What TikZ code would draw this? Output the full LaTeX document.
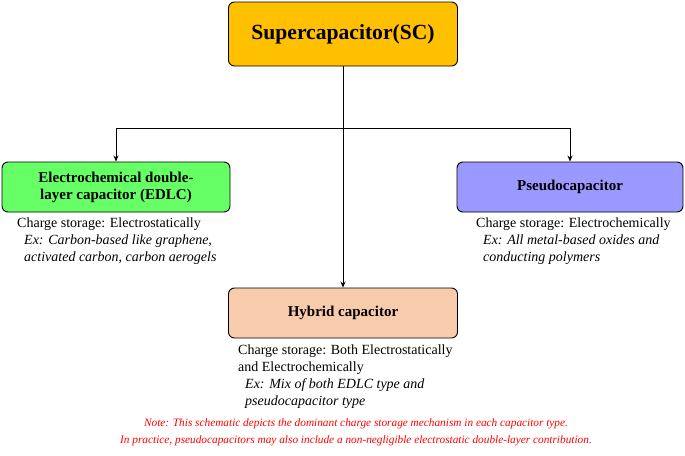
\documentclass[tikz,border=0pt]{standalone}
\usepackage{fontspec}
\setmainfont{Liberation Serif}
\usetikzlibrary{arrows.meta}
\begin{document}
\begin{tikzpicture}[x=1pt,y=-1pt,
  box/.style={draw=black,line width=0.9pt,rounded corners=6pt,align=center,font=\bfseries\fontsize{15}{17}\selectfont},
  desc/.style={anchor=north west,align=left,inner sep=0pt,font=\fontsize{14}{16.8}\selectfont},
  conn/.style={line width=0.8pt,-{Stealth[length=6pt,width=5pt]}}]
\useasboundingbox (0,0) rectangle (685,455);
\node[box,fill={rgb,255:red,255;green,192;blue,0},minimum width=229,minimum height=64,font=\bfseries\fontsize{21.6}{24}\selectfont] (sc) at (343,34) {Supercapacitor(SC)};
\node[box,fill={rgb,255:red,102;green,255;blue,102},minimum width=228,minimum height=50] (edlc) at (116,187) {Electrochemical double-\\layer capacitor (EDLC)};
\node[box,fill={rgb,255:red,153;green,153;blue,255},minimum width=226,minimum height=50] (pc) at (570,187) {Pseudocapacitor};
\node[box,fill={rgb,255:red,248;green,203;blue,173},minimum width=229,minimum height=50] (hc) at (343,313) {Hybrid capacitor};
\coordinate (jl) at (116,128);
\coordinate (jr) at (570,128);
\draw[conn] (sc.south) -- (hc.north);
\draw[line width=0.8pt] (jl) -- (jr);
\draw[conn] (jl) -- (edlc.north);
\draw[conn] (jr) -- (pc.north);
\node[desc] (t1) at (17,218) {Charge storage: Electrostatically\\\hspace*{7pt}\textit{Ex: Carbon-based like graphene,}\\\hspace*{7pt}\textit{activated carbon, carbon aerogels}};
\node[desc] (t2) at (476,218) {Charge storage: Electrochemically\\\hspace*{7pt}\textit{Ex: All metal-based oxides and}\\\hspace*{7pt}\textit{conducting polymers}};
\node[desc] (t3) at (238,345) {Charge storage: Both Electrostatically\\and Electrochemically\\\hspace*{7pt}\textit{Ex: Mix of both EDLC type and}\\\hspace*{7pt}\textit{pseudocapacitor type}};
\node[align=center,text=red,font=\itshape\fontsize{11.3}{17}\selectfont] (note) at (356,432) {Note: This schematic depicts the dominant charge storage mechanism in each capacitor type.\\In practice, pseudocapacitors may also include a non-negligible electrostatic double-layer contribution.};
\end{tikzpicture}
\end{document}
